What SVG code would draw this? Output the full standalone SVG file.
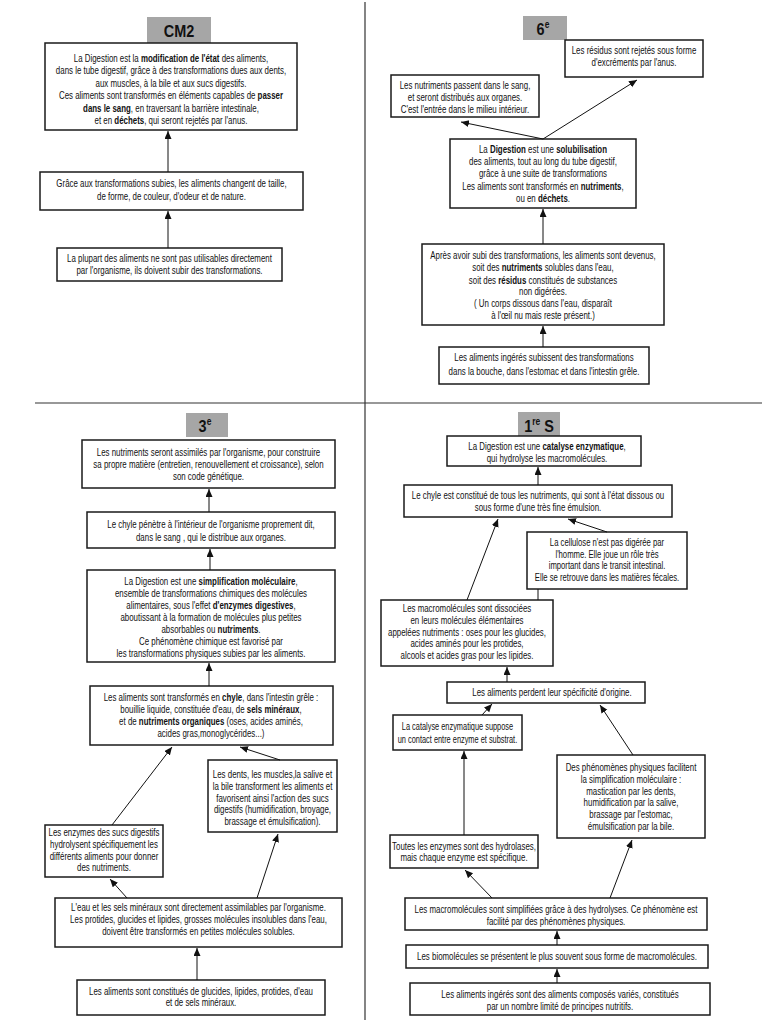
<svg xmlns="http://www.w3.org/2000/svg" width="768" height="1024" viewBox="0 0 768 1024">
<defs>
<marker id="ah" markerUnits="userSpaceOnUse" markerWidth="9" markerHeight="8" refX="8" refY="3.5" orient="auto">
<path d="M0,0 L8,3.5 L0,7 z" fill="#111"/>
</marker>
</defs>
<style>
.b{fill:#fff;stroke:#1a1a1a;stroke-width:1.5}
.t{font-family:"Liberation Sans",Arial,sans-serif;font-size:10px;text-anchor:middle;fill:#111}
.lbl{fill:#a6a6a6}
.lt{font-family:"Liberation Sans",Arial,sans-serif;font-weight:bold;font-size:17px;text-anchor:middle;fill:#111}
.c line{stroke:#111;stroke-width:1;marker-end:url(#ah)}
.div{stroke:#333;stroke-width:1.2}
.k{font-weight:bold}
</style>
<rect width="768" height="1024" fill="#fff"/>
<g id="dividers">
<line class="div" x1="365" y1="2" x2="365" y2="1020"/>
<line class="div" x1="35" y1="403" x2="762" y2="403"/>
</g>

<!-- CM2 -->
<g id="lbl-cm2"><rect class="lbl" x="147" y="17" width="64" height="26"/><text class="lt" x="179" y="37" transform="matrix(0.85 0 0 1 26.85 0)">CM2</text></g>
<g id="cm2-n1"><rect class="b" x="45" y="43" width="252" height="87"/>
<g class="t" transform="matrix(0.79 0 0 1 35.91 0)">
<text x="171" y="62">La Digestion est la <tspan class="k">modification de l'état</tspan> des aliments,</text>
<text x="171" y="74.5">dans le tube digestif, grâce à des transformations dues aux dents,</text>
<text x="171" y="87">aux muscles, à la bile et aux sucs digestifs.</text>
<text x="171" y="99.5">Ces aliments sont transformés en éléments capables de <tspan class="k">passer</tspan></text>
<text x="171" y="112"><tspan class="k">dans le sang</tspan>, en traversant la barrière intestinale,</text>
<text x="171" y="124.5">et en <tspan class="k">déchets</tspan>, qui seront rejetés par l'anus.</text>
</g></g>
<g id="cm2-n2"><rect class="b" x="40" y="172" width="263" height="38"/>
<g class="t" transform="matrix(0.79 0 0 1 36.015 0)">
<text x="171.5" y="187.5">Grâce aux transformations subies, les aliments changent de taille,</text>
<text x="171.5" y="200.5">de forme, de couleur, d'odeur et de nature.</text>
</g></g>
<g id="cm2-n3"><rect class="b" x="57" y="248" width="225" height="33"/>
<g class="t" transform="matrix(0.79 0 0 1 35.595 0)">
<text x="169.5" y="262.5">La plupart des aliments ne sont pas utilisables directement</text>
<text x="169.5" y="274.5">par l'organisme, ils doivent subir des transformations.</text>
</g></g>

<!-- 6e -->
<g id="lbl-6e"><rect class="lbl" x="523" y="16" width="44" height="24"/><text class="lt" x="543" y="35" transform="matrix(0.85 0 0 1 81.45 0)">6<tspan font-size="10" dy="-7">e</tspan></text></g>
<g id="s6-residus"><rect class="b" x="565" y="40" width="138" height="37"/>
<g class="t" transform="matrix(0.79 0 0 1 133.14 0)">
<text x="634" y="54.5">Les résidus sont rejetés sous forme</text>
<text x="634" y="66.5">d'excréments par l'anus.</text>
</g></g>
<g id="s6-sang"><rect class="b" x="391" y="75" width="148" height="42"/>
<g class="t" transform="matrix(0.79 0 0 1 97.65 0)">
<text x="465" y="89.5">Les nutriments passent dans le sang,</text>
<text x="465" y="101.5">et seront distribués aux organes.</text>
<text x="465" y="113.5">C'est l'entrée dans le milieu intérieur.</text>
</g></g>
<g id="s6-digestion"><rect class="b" x="450" y="139" width="186" height="69"/>
<g class="t" transform="matrix(0.79 0 0 1 114.03 0)">
<text x="543" y="153.5">La <tspan class="k">Digestion</tspan> est une <tspan class="k">solubilisation</tspan></text>
<text x="543" y="165.5">des aliments, tout au long du tube digestif,</text>
<text x="543" y="177.5">grâce à une suite de transformations</text>
<text x="543" y="190.5">Les aliments sont transformés en <tspan class="k">nutriments</tspan>,</text>
<text x="543" y="202.5">ou en <tspan class="k">déchets</tspan>.</text>
</g></g>
<g id="s6-devenus"><rect class="b" x="422" y="244" width="242" height="81"/>
<g class="t" transform="matrix(0.79 0 0 1 114.03 0)">
<text x="543" y="259.5">Après avoir subi des transformations, les aliments sont devenus,</text>
<text x="543" y="271.5">soit des <tspan class="k">nutriments</tspan> solubles dans l'eau,</text>
<text x="543" y="284">soit des <tspan class="k">résidus</tspan> constitués de substances</text>
<text x="543" y="295.5">non digérées.</text>
<text x="543" y="307.5">( Un corps dissous dans l'eau, disparaît</text>
<text x="543" y="319.5">à l'œil nu mais reste présent.)</text>
</g></g>
<g id="s6-ingeres"><rect class="b" x="439" y="347" width="210" height="37"/>
<g class="t" transform="matrix(0.79 0 0 1 114.24 0)">
<text x="544" y="361.5">Les aliments ingérés subissent des transformations</text>
<text x="544" y="375.5">dans la bouche, dans l'estomac et dans l'intestin grêle.</text>
</g></g>

<!-- 3e -->
<g id="lbl-3e"><rect class="lbl" x="186" y="413" width="42" height="24"/><text class="lt" x="205" y="432" transform="matrix(0.85 0 0 1 30.75 0)">3<tspan font-size="10" dy="-7">e</tspan></text></g>
<g id="s3-n1"><rect class="b" x="82" y="440" width="253" height="48"/>
<g class="t" transform="matrix(0.79 0 0 1 43.785 0)">
<text x="208.5" y="456.5">Les nutriments seront assimilés par l'organisme, pour construire</text>
<text x="208.5" y="468.5">sa propre matière (entretien,  renouvellement et croissance), selon</text>
<text x="208.5" y="480.5">son code génétique.</text>
</g></g>
<g id="s3-n2"><rect class="b" x="87" y="512" width="248" height="36"/>
<g class="t" transform="matrix(0.79 0 0 1 44.31 0)">
<text x="211" y="528.5">Le chyle pénètre à l'intérieur de l'organisme proprement dit,</text>
<text x="211" y="541.5">dans le sang , qui le distribue aux organes.</text>
</g></g>
<g id="s3-n3"><rect class="b" x="87" y="570" width="248" height="92"/>
<g class="t" transform="matrix(0.79 0 0 1 44.31 0)">
<text x="211" y="585.5">La Digestion est une <tspan class="k">simplification moléculaire</tspan>,</text>
<text x="211" y="597.5">ensemble de transformations chimiques des molécules</text>
<text x="211" y="609.5">alimentaires, sous l'effet <tspan class="k">d'enzymes digestives</tspan>,</text>
<text x="211" y="621.5">aboutissant à la formation de molécules plus petites</text>
<text x="211" y="633.5">absorbables ou <tspan class="k">nutriments</tspan>.</text>
<text x="211" y="645.5">Ce phénomène chimique est favorisé par</text>
<text x="211" y="657.5">les transformations physiques subies par les aliments.</text>
</g></g>
<g id="s3-n4"><rect class="b" x="90" y="686" width="243" height="59"/>
<g class="t" transform="matrix(0.79 0 0 1 44.31 0)">
<text x="211" y="701.5">Les aliments sont transformés en <tspan class="k">chyle</tspan>, dans l'intestin grêle :</text>
<text x="211" y="713.5">bouillie liquide, constituée d'eau, de <tspan class="k">sels minéraux</tspan>,</text>
<text x="211" y="725.5">et de <tspan class="k">nutriments organiques</tspan> (oses, acides aminés,</text>
<text x="211" y="737.5">acides gras,monoglycérides...)</text>
</g></g>
<g id="s3-dents"><rect class="b" x="208" y="760" width="129" height="72"/>
<g class="t" transform="matrix(0.79 0 0 1 57.225 0)">
<text x="272.5" y="778.5">Les dents, les muscles,la salive et</text>
<text x="272.5" y="790.5">la bile transforment les aliments et</text>
<text x="272.5" y="802">favorisent ainsi l'action des sucs</text>
<text x="272.5" y="813.5">digestifs (humidification, broyage,</text>
<text x="272.5" y="825.5">brassage et émulsification).</text>
</g></g>
<g id="s3-enzymes"><rect class="b" x="45" y="825" width="118" height="52"/>
<g class="t" transform="matrix(0.79 0 0 1 21.84 0)">
<text x="104" y="836.5">Les enzymes des sucs digestifs</text>
<text x="104" y="848.5">hydrolysent spécifiquement les</text>
<text x="104" y="860.5">différents aliments pour donner</text>
<text x="104" y="871.5">des nutriments.</text>
</g></g>
<g id="s3-eau"><rect class="b" x="55" y="898" width="287" height="49"/>
<g class="t" transform="matrix(0.79 0 0 1 41.685 0)">
<text x="198.5" y="911.5">L'eau et les sels minéraux sont directement assimilables par l'organisme.</text>
<text x="198.5" y="923.5">Les protides, glucides  et lipides, grosses molécules insolubles dans l'eau,</text>
<text x="198.5" y="935.5">doivent être transformés en petites molécules solubles.</text>
</g></g>
<g id="s3-last"><rect class="b" x="77" y="980" width="248" height="35"/>
<g class="t" transform="matrix(0.79 0 0 1 42.21 0)">
<text x="201" y="995.5">Les aliments sont constitués de glucides, lipides, protides, d'eau</text>
<text x="201" y="1006.5">et de sels minéraux.</text>
</g></g>

<!-- 1re S -->
<g id="lbl-1s"><rect class="lbl" x="518" y="412" width="42" height="25"/><text class="lt" x="539" y="432" transform="matrix(0.85 0 0 1 80.85 0)">1<tspan font-size="10" dy="-7">re</tspan><tspan dy="7"> S</tspan></text></g>
<g id="s1-n1"><rect class="b" x="447" y="436" width="194" height="30"/>
<g class="t" transform="matrix(0.79 0 0 1 114.87 0)">
<text x="547" y="450.5">La Digestion est une <tspan class="k">catalyse enzymatique</tspan>,</text>
<text x="547" y="462">qui hydrolyse les macromolécules.</text>
</g></g>
<g id="s1-chyle"><rect class="b" x="404" y="485" width="268" height="32"/>
<g class="t" transform="matrix(0.79 0 0 1 112.98 0)">
<text x="538" y="499.5">Le chyle est constitué de tous les nutriments, qui sont à l'état dissous ou</text>
<text x="538" y="511.5">sous forme d'une très fine émulsion.</text>
</g></g>
<g id="s1-cellulose"><rect class="b" x="527" y="532" width="160" height="57"/>
<g class="t" transform="matrix(0.77 0 0 1 139.61 0)">
<text x="607" y="546.5">La cellulose n'est pas digérée par</text>
<text x="607" y="558">l'homme. Elle joue un rôle très</text>
<text x="607" y="569.5">important dans le transit intestinal.</text>
<text x="607" y="581">Elle se retrouve dans les matières fécales.</text>
</g></g>
<g id="s1-macro"><rect class="b" x="381" y="600" width="172" height="66"/>
<g class="t" transform="matrix(0.79 0 0 1 98.07 0)">
<text x="467" y="612.5">Les macromolécules sont dissociées</text>
<text x="467" y="624.5">en leurs molécules élémentaires</text>
<text x="467" y="636">appelées nutriments : oses pour les glucides,</text>
<text x="467" y="647.5">acides aminés pour les protides,</text>
<text x="467" y="659.5">alcools et acides gras pour les lipides.</text>
</g></g>
<g id="s1-perdent"><rect class="b" x="447" y="682" width="198" height="21"/>
<g class="t" transform="matrix(0.79 0 0 1 115.92 0)">
<text x="552" y="696.5">Les aliments perdent leur spécificité d'origine.</text>
</g></g>
<g id="s1-catalyse"><rect class="b" x="393" y="715" width="129" height="35"/>
<g class="t" transform="matrix(0.74 0 0 1 118.95 0)">
<text x="457.5" y="730.5">La catalyse enzymatique suppose</text>
<text x="457.5" y="743.5">un contact entre enzyme et substrat.</text>
</g></g>
<g id="s1-phen"><rect class="b" x="557" y="755" width="148" height="83"/>
<g class="t" transform="matrix(0.79 0 0 1 132.51 0)">
<text x="631" y="771.5">Des phénomènes physiques facilitent</text>
<text x="631" y="783.5">la simplification moléculaire :</text>
<text x="631" y="795.5">mastication par les dents,</text>
<text x="631" y="806.5">humidification par la salive,</text>
<text x="631" y="818.5">brassage par l'estomac,</text>
<text x="631" y="830.5">émulsification par la bile.</text>
</g></g>
<g id="s1-toutes"><rect class="b" x="390" y="835" width="148" height="33"/>
<g class="t" transform="matrix(0.79 0 0 1 97.44 0)">
<text x="464" y="850.5">Toutes les enzymes sont des hydrolases,</text>
<text x="464" y="861.5">mais chaque enzyme est spécifique.</text>
</g></g>
<g id="s1-hydro"><rect class="b" x="405" y="898" width="302" height="32"/>
<g class="t" transform="matrix(0.79 0 0 1 116.76 0)">
<text x="556" y="913.5">Les macromolécules sont simplifiées grâce à des hydrolyses. Ce phénomène est</text>
<text x="556" y="925.5">facilité par des phénomènes physiques.</text>
</g></g>
<g id="s1-bio"><rect class="b" x="406" y="945" width="302" height="23"/>
<g class="t" transform="matrix(0.79 0 0 1 116.97 0)">
<text x="557" y="960.5">Les biomolécules se présentent le plus souvent sous forme de macromolécules.</text>
</g></g>
<g id="s1-last"><rect class="b" x="410" y="983" width="300" height="32"/>
<g class="t" transform="matrix(0.79 0 0 1 117.6 0)">
<text x="560" y="998.5">Les aliments ingérés sont des aliments composés variés, constitués</text>
<text x="560" y="1010.5">par un nombre limité de principes nutritifs.</text>
</g></g>

<g id="connectors" class="c">
<line x1="168" y1="172" x2="168" y2="131"/>
<line x1="168" y1="248" x2="168" y2="211"/>
<line x1="543" y1="139" x2="461" y2="122"/>
<line x1="543" y1="139" x2="637" y2="80"/>
<line x1="543" y1="244" x2="543" y2="209"/>
<line x1="543" y1="347" x2="543" y2="326"/>
<line x1="209" y1="512" x2="209" y2="489"/>
<line x1="210" y1="570" x2="210" y2="549"/>
<line x1="209" y1="686" x2="209" y2="663"/>
<line x1="112" y1="825" x2="172" y2="747"/>
<line x1="280" y1="760" x2="240" y2="747"/>
<line x1="127" y1="898" x2="110" y2="879"/>
<line x1="257" y1="898" x2="278" y2="834"/>
<line x1="197" y1="980" x2="197" y2="948"/>
<line x1="538" y1="485" x2="538" y2="467"/>
<line x1="467" y1="600" x2="498" y2="519"/>
<line x1="607" y1="532" x2="568" y2="519"/>
<line x1="538" y1="589" x2="538" y2="600" style="marker-end:none"/>
<line x1="507" y1="682" x2="507" y2="667"/>
<line x1="482" y1="715" x2="492" y2="704"/>
<line x1="633" y1="755" x2="600" y2="705"/>
<line x1="464" y1="835" x2="464" y2="751"/>
<line x1="492" y1="898" x2="465" y2="870"/>
<line x1="610" y1="898" x2="632" y2="840"/>
<line x1="557" y1="945" x2="557" y2="931"/>
<line x1="557" y1="983" x2="557" y2="969"/>
</g>
</svg>
